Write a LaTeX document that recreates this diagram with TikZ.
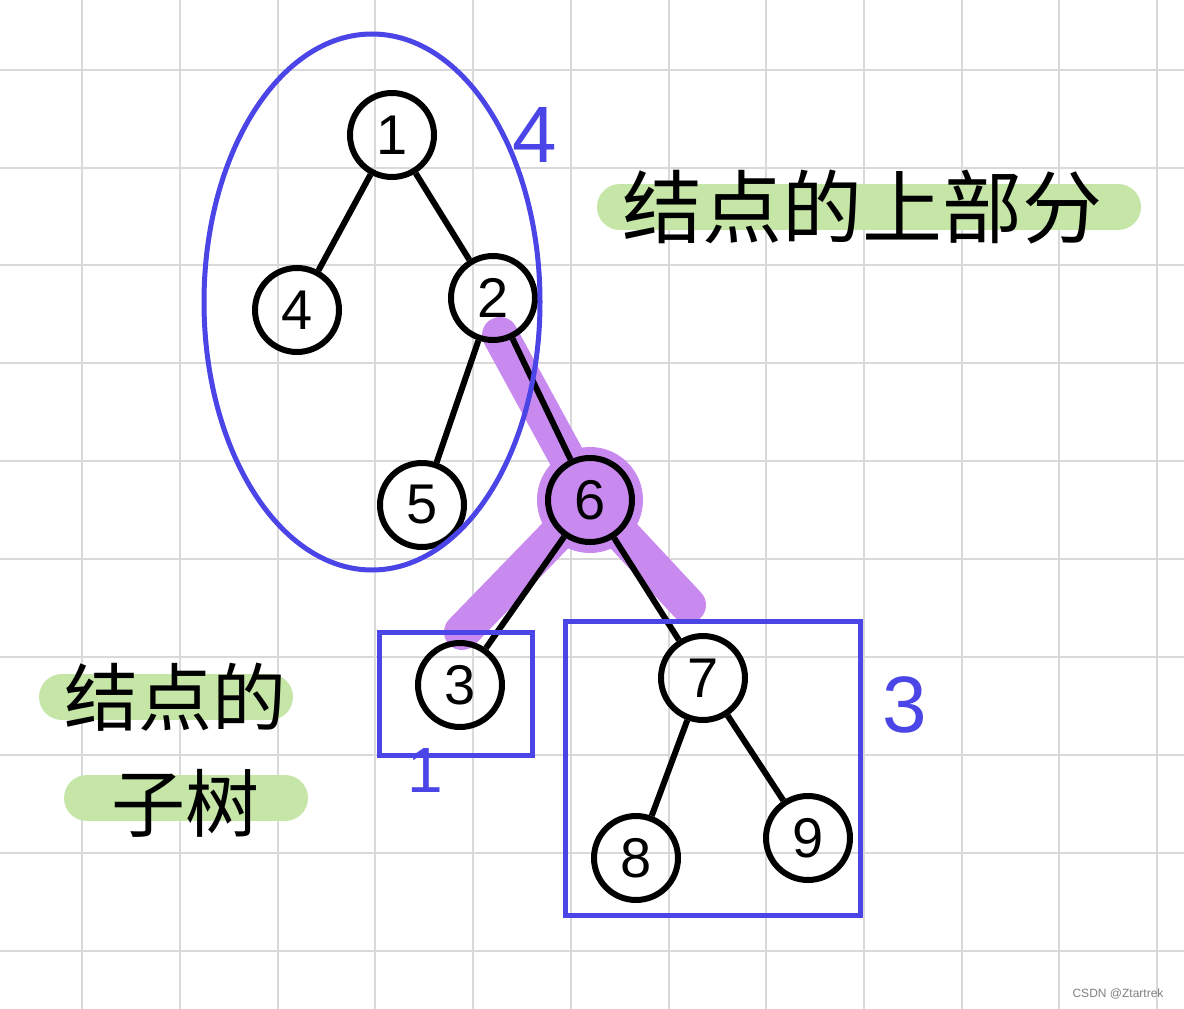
\documentclass[tikz,border=0pt]{standalone}
\usepackage{fontspec}
\newfontfamily\cjk{Noto Sans CJK SC}
\setmainfont{Liberation Sans}
\definecolor{hlc}{HTML}{C98AF0}
\definecolor{barc}{HTML}{C5E6A6}
\definecolor{blc}{HTML}{4B45E8}
\begin{document}
\begin{tikzpicture}[x=1pt,y=-1pt,
  tn/.style={circle,draw=black,line width=6pt,minimum size=84pt,inner sep=0pt,font=\fontsize{56}{56}\selectfont},
  edge/.style={line width=6pt,black},
  hl/.style={line width=36pt,hlc,line cap=round,line join=round},
  bl/.style={draw=blc,line width=5pt},
  bar/.style={line width=46pt,barc,line cap=round}]
\useasboundingbox (0,0) rectangle (1184,1009);
\fill[white] (0,0) rectangle (1184,1009);
\foreach \x in {82,180,278,375,473,571,669,766,864,962,1059,1157} \draw[gray!30,line width=2pt] (\x,0) -- (\x,1009);
\foreach \y in {70,168,265,363,461,559,657,755,853,951} \draw[gray!30,line width=2pt] (0,\y) -- (1184,\y);
% bars
\draw[bar] (620,207) -- (1118,207);
\draw[bar] (62,697) -- (270,697);
\draw[bar] (87,798) -- (285,798);
\node[font=\cjk\fontsize{80}{80}\selectfont] (t1) at (862,207) {结点的上部分};
\node[font=\cjk\fontsize{74}{74}\selectfont] (t2) at (175,697) {结点的};
\node[font=\cjk\fontsize{74}{74}\selectfont] (t3) at (185,803) {子树};
% highlight
\coordinate (h2) at (500,335);
\coordinate (h3) at (462,632);
\coordinate (h7) at (688,605);
\draw[hl] (h2) -- (590,500) -- (h3);
\draw[hl] (590,500) -- (h7);
% nodes
\node[tn] (n1) at (392,135) {1};
\node[tn] (n4) at (297,310) {4};
\node[tn] (n2) at (493,298) {2};
\node[tn] (n5) at (422,505) {5};
\node[tn,fill=hlc,minimum size=100pt,draw=hlc] (n6b) at (590,500) {};
\node[tn,fill=hlc] (n6) at (590,500) {6};
\node[tn] (n3) at (460,685) {3};
\node[tn] (n7) at (703,678) {7};
\node[tn] (n8) at (636,858) {8};
\node[tn] (n9) at (808,838) {9};
\draw[edge] (n1) -- (n4); \draw[edge] (n1) -- (n2);
\draw[edge] (n2) -- (n5); \draw[edge] (n2) -- (n6);
\draw[edge] (n6) -- (n3); \draw[edge] (n6) -- (n7);
\draw[edge] (n7) -- (n8); \draw[edge] (n7) -- (n9);
% blue
\draw[bl] (372,302) ellipse [x radius=168, y radius=268];
\draw[bl] (379,632) rectangle (532,755);
\draw[bl] (565,621) rectangle (860,915);
\node[blc,font=\fontsize{80}{80}\selectfont] (l4) at (535,135) {4};
\node[blc,font=\fontsize{80}{80}\selectfont] (l3) at (905,705) {3};
\node[blc,font=\fontsize{64}{64}\selectfont] (l1) at (425,770) {1};
\node[gray,font=\fontsize{12}{12}\selectfont] (c) at (1118,994) {CSDN @Ztartrek};
\end{tikzpicture}
\end{document}
